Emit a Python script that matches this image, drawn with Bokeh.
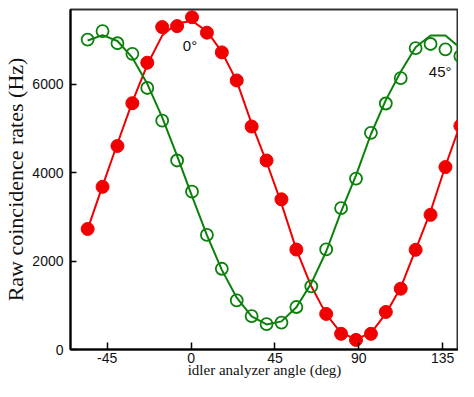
from bokeh.plotting import figure
from bokeh.models import Range1d, FixedTicker, Label
from bokeh.embed import file_html
from bokeh.resources import INLINE

# ---- data ----
angles = [-55.5, -47.5, -39.5, -31.5, -23.5, -15.5, -7.5, 0.5, 8.5, 16.5, 24.5, 32.5,
          40.5, 48.5, 56.5, 64.5, 72.5, 80.5, 88.5, 96.5, 104.5, 112.5, 120.5, 128.5,
          136.5, 144.5]

# 0 deg setting (red, filled) - measured points (no point at 64.5)
red_angle = [-55.5, -47.5, -39.5, -31.5, -23.5, -15.5, -7.5, 0.5, 8.5, 16.5, 24.5, 32.5,
             40.5, 48.5, 56.5, 72.5, 80.5, 88.5, 96.5, 104.5, 112.5, 120.5, 128.5,
             136.5, 144.5]
red_rate = [2726, 3680, 4603, 5571, 6487, 7292, 7314, 7515, 7166, 6720, 6085, 5044,
            4275, 3397, 2260, 805, 355, 217, 355, 849, 1375, 2255, 3046, 4127, 5057]
red_fit = [2724, 3700, 4660, 5600, 6440, 7100, 7380, 7430, 7200, 6730, 6070, 5110,
           4240, 3300, 2260, 1430, 800, 370, 240, 370, 810, 1400, 2260, 3120, 4150, 5100]

# 45 deg setting (green, open)
green_rate = [7010, 7200, 6927, 6688, 5915, 5178, 4275, 3569, 2592, 1826, 1111, 753,
              574, 610, 961, 1430, 2264, 3196, 3866, 4901, 5564, 6138, 6816, 6910,
              6787, 6637]
green_fit = [6989, 7110, 6977, 6600, 6009, 5250, 4381, 3470, 2587, 1801, 1172, 750,
             567, 636, 954, 1495, 2217, 3120, 3940, 4869, 5640, 6280, 6836, 7100,
             7100, 6818]

x_ticks = [-45, 0, 45, 90, 135]
x_tick_labels = ["-45", "0", "45", "90", "135"]
y_ticks = [0, 2000, 4000, 6000]
y_tick_labels = ["0", "2000", "4000", "6000"]

x_title = "idler analyzer angle (deg)"
y_title = "Raw coincidence rates (Hz)"
curve_labels = ["0°", "45°"]

RED = "#f00000"
GREEN = "#0b800b"
TXT = "#111111"

W, H = 458, 381
LEFT, TOP, BOTTOM = 69, 9, 32
X0, X1, Y0, Y1 = -64.7, 143.5, 0, 7690

p = figure(width=W, height=H, x_range=Range1d(X0, X1), y_range=Range1d(Y0, Y1),
           output_backend="svg", toolbar_location=None,
           min_border_left=LEFT, min_border_right=0, min_border_top=TOP,
           min_border_bottom=BOTTOM)
p.background_fill_color = "white"
p.border_fill_color = "white"
p.xgrid.visible = False
p.ygrid.visible = False
p.outline_line_color = "#333333"
p.outline_line_width = 2

p.xaxis.ticker = FixedTicker(ticks=x_ticks)
p.yaxis.ticker = FixedTicker(ticks=y_ticks)
p.xaxis.major_label_overrides = dict(zip(x_ticks, x_tick_labels))
p.yaxis.major_label_overrides = dict(zip(y_ticks, y_tick_labels))
for ax in (p.xaxis[0], p.yaxis[0]):
    ax.major_tick_out = 0
    ax.minor_tick_in = 0
    ax.minor_tick_out = 0
    ax.axis_line_width = 2
    ax.axis_line_color = "black"
    ax.major_tick_line_color = "black"
    ax.major_tick_line_width = 1.5
    ax.major_label_text_font = "Liberation Sans"
    ax.major_label_text_font_size = "14px"
    ax.major_label_text_color = TXT
    ax.axis_label_text_font = "Liberation Serif"
    ax.axis_label_text_font_style = "normal"
    ax.axis_label_text_color = TXT
p.xaxis.major_tick_in = 7
p.yaxis.major_tick_in = 6
p.xaxis.major_label_standoff = 3
p.yaxis.major_label_standoff = 7

p.yaxis.axis_label = y_title
p.yaxis.axis_label_text_font_size = "22px"
p.yaxis.axis_label_standoff = 1

p.xaxis.axis_label = x_title
p.xaxis.axis_label_text_font_size = "15px"
p.xaxis.axis_label_standoff = -4

# curves
p.line(angles, red_fit, line_color=RED, line_width=2)
p.scatter(red_angle, red_rate, size=13, fill_color=RED, line_color=RED)
p.line(angles, green_fit, line_color=GREEN, line_width=2)
p.scatter(angles, green_rate, size=12, fill_color=None, line_color=GREEN, line_width=1.8)

# curve annotations
p.add_layout(Label(x=-4.4, y=6867, text=curve_labels[0], text_font="Liberation Sans",
                   text_font_size="15px", text_baseline="middle", text_align="left",
                   text_color=TXT))
p.add_layout(Label(x=127.6, y=6296, text=curve_labels[1], text_font="Liberation Sans",
                   text_font_size="15px", text_baseline="middle", text_align="left",
                   text_color=TXT))

open("out.html", "w").write(file_html(p, INLINE))
